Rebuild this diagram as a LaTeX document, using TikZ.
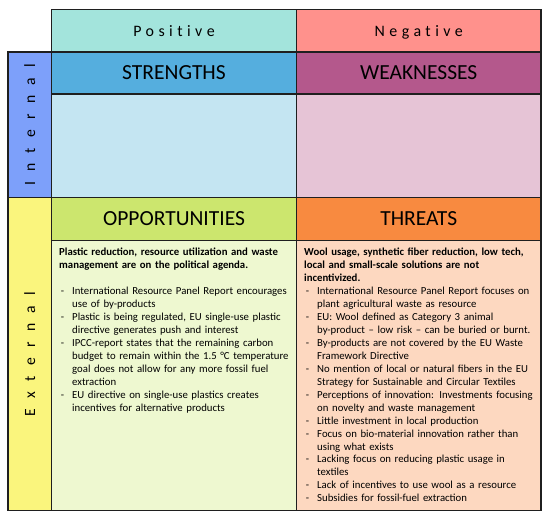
\documentclass[tikz,border=0pt]{standalone}
\usepackage{fontspec,enumitem}
\setmainfont{Carlito}
\newfontfamily\spacedfont[LetterSpace=28,Ligatures=NoCommon]{Carlito}
\newfontfamily\widefont[LetterSpace=66,Ligatures=NoCommon]{Carlito}
\usetikzlibrary{positioning}
\definecolor{poshead}{HTML}{A3E4DC}
\definecolor{neghead}{HTML}{FF918C}
\definecolor{strcol}{HTML}{55AEDE}
\definecolor{weakcol}{HTML}{B4588C}
\definecolor{strbody}{HTML}{C4E5F2}
\definecolor{weakbody}{HTML}{E6C4D6}
\definecolor{intcol}{HTML}{7DA0FA}
\definecolor{extcol}{HTML}{FAF57D}
\definecolor{oppcol}{HTML}{CCE66E}
\definecolor{oppbody}{HTML}{EEF8D0}
\definecolor{thrcol}{HTML}{F88A40}
\definecolor{thrbody}{HTML}{FDD8C0}
\setlist[itemize]{label=-,nosep,leftmargin=13bp,labelsep=8bp}

\begin{document}
\begin{tikzpicture}[x=1bp,y=-1bp,node distance=0pt,
 cell/.style={draw=black!88,line width=1.2bp,inner sep=0pt,outer sep=0pt,anchor=north west},
 heading/.style={font=\spacedfont\fontsize{16}{19}\selectfont,text depth=0pt},
 title/.style={font=\fontsize{21.6}{26}\selectfont,text depth=0pt},
 side/.style={rotate=90,font=\widefont\fontsize{15.7}{19}\selectfont,text depth=0pt},
 body/.style={anchor=north west,text width=236bp,inner sep=0pt,align=left,font=\fontsize{10.8}{13}\selectfont}]
\useasboundingbox (0,0) rectangle (550,519);
\node[cell,heading,fill=poshead,minimum width=245bp,minimum height=42.5bp] (pos) at (51.5,9.5) {Positive};
\node[cell,heading,fill=neghead,minimum width=244.5bp,minimum height=42.5bp,right=of pos] (neg) {Negative};
\node[cell,title,fill=strcol,minimum width=245bp,minimum height=42bp,below=of pos] (str) {STRENGTHS};
\node[cell,title,fill=weakcol,minimum width=244.5bp,minimum height=42bp,below=of neg] (weak) {WEAKNESSES};
\node[cell,fill=strbody,minimum width=245bp,minimum height=103.5bp,below=of str] (strbox) {};
\node[cell,fill=weakbody,minimum width=244.5bp,minimum height=103.5bp,below=of weak] (weakbox) {};
\node[cell,title,fill=oppcol,minimum width=245bp,minimum height=43bp,below=of strbox] (opp) {OPPORTUNITIES};
\node[cell,title,fill=thrcol,minimum width=244.5bp,minimum height=43bp,below=of weakbox] (thr) {THREATS};
\node[cell,fill=oppbody,minimum width=245bp,minimum height=270bp,below=of opp] (oppbox) {};
\node[cell,fill=thrbody,minimum width=244.5bp,minimum height=270bp,below=of thr] (thrbox) {};
\node[cell,fill=intcol,minimum width=43.5bp,minimum height=145.5bp,anchor=north east] (int) at (str.north west) {};
\node[cell,fill=extcol,minimum width=43.5bp,minimum height=313bp,anchor=north east] (ext) at (opp.north west) {};
\node[side] (intlabel) at (int) {Internal};
\node[side] (extlabel) at (ext) {External};
% opportunities text
\node[body] (opptext) at ([xshift=7.5bp,yshift=-7.5bp]oppbox.north west) {%
\textbf{Plastic reduction, resource utilization and waste\\management are on the political agenda.}\par\vspace{13bp}
\begin{itemize}
\item International Resource Panel Report encourages\\use of by-products
\item Plastic is being regulated, EU single-use plastic\\directive generates push and interest
\item IPCC-report states that the remaining carbon\\budget to remain within the 1.5 °C temperature\\goal does not allow for any more fossil fuel\\extraction
\item EU directive on single-use plastics creates\\incentives for alternative products
\end{itemize}};
% threats text
\node[body] (thrtext) at ([xshift=7.5bp,yshift=-7.5bp]thrbox.north west) {%
\textbf{Wool usage, synthetic fiber reduction, low tech,\\local and small-scale solutions are not\\incentivized.}
\begin{itemize}
\item International Resource Panel Report focuses on\\plant agricultural waste as resource
\item EU: Wool defined as Category 3 animal\\by-product – low risk – can be buried or burnt.
\item By-products are not covered by the EU Waste\\Framework Directive
\item No mention of local or natural fibers in the EU\\Strategy for Sustainable and Circular Textiles
\item Perceptions of innovation: Investments focusing\\on novelty and waste management
\item Little investment in local production
\item Focus on bio-material innovation rather than\\using what exists
\item Lacking focus on reducing plastic usage in\\textiles
\item Lack of incentives to use wool as a resource
\item Subsidies for fossil-fuel extraction
\end{itemize}};
\end{tikzpicture}
\end{document}
